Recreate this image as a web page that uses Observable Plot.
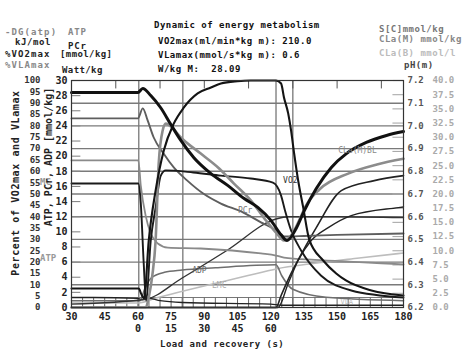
<!DOCTYPE html>
<html><head><meta charset="utf-8">
<script src="https://cdn.jsdelivr.net/npm/d3@7"></script>
<script src="https://cdn.jsdelivr.net/npm/@observablehq/plot@0.6"></script>
<style>
body{margin:0;background:#fff;}
#wrap{position:relative;width:474px;height:355px;overflow:hidden;}
</style></head><body><div id="wrap"></div>
<script>
// ---- tick labels ----
const timeTicks = [30,45,60,75,90,105,120,135,150,165,180];
const recoveryTicks = [0,15,30,45,60];          // recovery seconds, start at load end (t=60 label row)
const recoveryStart = 60;
const pctTicks = d3.range(0,101,5);
const mmolTicks = d3.range(0,31,2);
const pHTicks = d3.range(62,73,1).map(d=>d/10);
const rightTicks = d3.range(0,41,2.5);
const markerTimes = [60.4, 80.3, 122.4, 130];
const topTickTimes = [50,70,90,110,130,150,170];
const bottomTickTimes = d3.range(30,181,5);

// axis conversions into the common percent scale (0..100)
const mmolToPct = v => v/30*100;
const pHToPct = v => (v-6.2)*100;
const rightToPct = v => v/40*100;

// ---- series (values in % of axis height) ----
const pcrT = [30,60,62.2,65.8,70.3,74.9,79.4,85.3,93,100.7,108,114.3,120,124.7,127.4,131.5,135.2,140.6,147.4,154.2,163.2,172.3,180];
const pcrV = [94.7,94.7,96.5,93.4,88,80.6,73.6,66,59,53.7,48,44,38.5,32,29.5,34.8,42.7,52.4,61.7,67.8,72.7,75.8,77.5];

const vo2T = [30,60.4,61.5,62.8,64.9,68,71.7,76.2,80.7,87,93,97.5,105,111,122.4,124.7,126,127.9,129.2,130.6,132.4,134.7,137.4,143.7,149.6,154,165.5,180];
const vo2V = [8.4,8.4,6,4,29.5,51.5,69.2,81,88,94.3,96.9,98.7,99.7,100,100,98.7,92.5,85.5,78,67.8,56,44,30,20.7,15,11.9,7.5,5.3];

const powerT = [30,60.2,61.3,62.6,63.7,65.8,68,70.3,72.6,85,97.5,111,121,124.7,126.4,129.2,133.8,142.8,156.4,180];
const powerV = [54.6,54.6,46,20,3,29.5,44,58,60.4,59.5,58.1,56.8,55,49.3,43,34,25,14,7.5,4.4];

const vlaT = [30,63.5,65,66.5,68,69.4,71.2,72.6,74.9,79.4,88.4,96.2,103.4,111.1,117.9,122.4,126,129.2,132.4,136,142,155,168,180];
const vlaV = [0,0,5,14,29.5,63.4,78,81,79.7,74.9,67.8,61.7,54.6,47.1,38.3,33,29.5,31.7,37.4,45,52,59,63,65.5];

const dgT = [30,60,62.2,64.4,67.1,71.6,76.2,82.2,89.5,97.5,106.6,115.6,122.4,126,135,150,180];
const dgV = [83.3,83.3,87.7,82.4,75,67.8,61.7,56,50.2,45.8,42.3,37.5,34,31.3,31.5,32,32.6];

const scT = [30,60.2,61.3,63.5,65.8,69,73.5,88.4,115.6,122.4,126,140,160,180];
const scV = [64.8,64.8,53.7,40.5,32.6,28.2,26.4,26,23.8,22.9,22,21,20,19];

const claBT = [30,60,69,115.6,122.4,140,160,180];
const claBV = [2,2,4.4,15.4,17,19.5,21.8,24];

const claMT = [30,63,80,100,122.4,128,150,180];
const claMV = [1.5,3.5,13,25,39,40,40,39.6];

const adpT = [30,61,63,66,72,80,95,122.4,125,130,145,180];
const adpV = [3,3,8,13,15.5,16.5,17.5,18.8,14,8,4.5,3];

const phT = [30,122.4,124.7,128.3,134.7,140.6,151.9,166.8,180];
const phV = [0,0,5.3,13.2,25.1,35.2,51.5,55.9,58.1];

const r2T = [30,123.3,127.9,132.4,138.3,146,156.4,177.7,180];
const r2V = [0,0,10.6,20.7,29.5,35.2,40.5,44,44.3];

const atpT = [30,40,60,62,65,70,80,120,125,180];
const atpV = [4.4,4.4,4,3.5,4,3,2.2,1.5,1,1];

const series = [
  {t: claBT, v: claBV, stroke:"#bdbdbd", w:1.6},
  {t: atpT, v: atpV, stroke:"#222", w:1.3},
  {t: adpT, v: adpV, stroke:"#6e6e6e", w:1.6},
  {t: claMT, v: claMV, stroke:"#333", w:1.4},
  {t: scT, v: scV, stroke:"#8a8a8a", w:1.8},
  {t: r2T, v: r2V, stroke:"#222", w:1.4},
  {t: phT, v: phV, stroke:"#222", w:1.6},
  {t: dgT, v: dgV, stroke:"#5e5e5e", w:1.9},
  {t: powerT, v: powerV, stroke:"#1a1a1a", w:1.9},
  {t: vlaT, v: vlaV, stroke:"#8c8c8c", w:2.6},
  {t: vo2T, v: vo2V, stroke:"#141414", w:2.1},
  {t: pcrT, v: pcrV, stroke:"#111", w:3}
];

const FF = "DejaVu Sans Mono, monospace";

const marks = [
  Plot.ruleY([6.3,6.4,6.5,6.6,6.7,6.8,6.9,7.0,7.1].map(pHToPct), {stroke:"#7a7a7a", strokeWidth:1.4}),
  Plot.ruleY([4.4], {stroke:"#777", strokeWidth:1}),
  Plot.ruleX(markerTimes, {stroke:"#777", strokeWidth:1.3}),
  Plot.link(mmolTicks, {x1:30, x2:34, y1:d=>mmolToPct(d), y2:d=>mmolToPct(d), stroke:"#888", strokeWidth:1.1}),
  Plot.link(rightTicks, {x1:175, x2:180, y1:d=>rightToPct(d), y2:d=>rightToPct(d), stroke:"#aaa", strokeWidth:1.1}),
  Plot.link(topTickTimes, {x1:d=>d, x2:d=>d, y1:100, y2:96.5, stroke:"#555"}),
  Plot.link(bottomTickTimes, {x1:d=>d, x2:d=>d, y1:0, y2:4.4, stroke:"#666"}),
  ...series.map(s => Plot.line(s.t.map((t,i)=>({t, v:s.v[i]})), {x:"t", y:"v", stroke:s.stroke, strokeWidth:s.w, curve:"monotone-x"})),
  Plot.frame({stroke:"#333", strokeWidth:1.2}),
  Plot.axisY(pctTicks, {anchor:"left", label:null, tickSize:0, tickPadding:31, fontSize:9, fontWeight:"bold", color:"#333", fontFamily:FF}),
  Plot.axisY(mmolTicks.map(mmolToPct), {anchor:"left", label:null, tickSize:0, tickPadding:4, fontSize:10, fontWeight:"bold", color:"#222", fontFamily:FF, tickFormat:d=>String(Math.round(d*30/100))}),
  Plot.axisY(pHTicks.map(pHToPct), {anchor:"right", label:null, tickSize:0, tickPadding:4, fontSize:9, fontWeight:"bold", color:"#555", fontFamily:FF, tickFormat:d=>(6.2+d/100).toFixed(1)}),
  Plot.axisY(rightTicks.map(rightToPct), {anchor:"right", label:null, tickSize:0, tickPadding:29, fontSize:9, fontWeight:"bold", color:"#aaa", fontFamily:FF, tickFormat:d=>(d*40/100).toFixed(1)}),
  Plot.axisX(timeTicks, {anchor:"bottom", label:null, tickSize:0, tickPadding:5, fontSize:10, fontWeight:"bold", color:"#222", fontFamily:FF}),
  Plot.axisX(recoveryTicks.map(d=>d+recoveryStart), {anchor:"bottom", label:null, tickSize:0, tickPadding:17, fontSize:10, fontWeight:"bold", color:"#222", fontFamily:FF, tickFormat:d=>String(d-recoveryStart)}),
  Plot.text([{t:150.5, v:69.2, s:"CLa(M)BL"}], {x:"t", y:"v", text:"s", fill:"#888", fontSize:8, fontFamily:FF, textAnchor:"start"}),
  Plot.text([{t:125.6, v:55.9, s:"VO2"}], {x:"t", y:"v", text:"s", fill:"#333", fontSize:8, fontFamily:FF, textAnchor:"start"}),
  Plot.text([{t:105.2, v:42.7, s:"PCr"}], {x:"t", y:"v", text:"s", fill:"#777", fontSize:8, fontFamily:FF, textAnchor:"start"}),
  Plot.text([{t:84.5, v:16.3, s:"ADP"}], {x:"t", y:"v", text:"s", fill:"#666", fontSize:8, fontFamily:FF, textAnchor:"start"}),
  Plot.text([{t:93.5, v:9.7, s:"LMC"}], {x:"t", y:"v", text:"s", fill:"#aaa", fontSize:8, fontFamily:FF, textAnchor:"start"}),
  Plot.text([{t:151.5, v:2.5, s:"VLA"}], {x:"t", y:"v", text:"s", fill:"#bbb", fontSize:7, fontFamily:FF, textAnchor:"start"})
];

const chart = Plot.plot({
  width:474, height:355,
  marginLeft:71, marginRight:71, marginTop:80, marginBottom:48,
  x:{domain:[30,180], axis:null},
  y:{domain:[0,100], axis:null},
  style:{background:"#fff", fontFamily:FF},
  marks
});
document.getElementById("wrap").appendChild(chart);

// ---- header and axis titles ----
const svg = d3.select(chart);
const texts = [
  {x:5, y:35, s:"-DG(atp)", c:"#888", ls:1.1, fs:9},
  {x:68, y:35, s:"ATP", c:"#888", ls:0.8, fs:9},
  {x:15, y:44.5, s:"kJ/mol", c:"#222", ls:0.6, fs:9},
  {x:68, y:48.5, s:"PCr", c:"#222", ls:0.8, fs:9},
  {x:5, y:57, s:"%VO2max", c:"#222", ls:1.1, fs:9},
  {x:60, y:57, s:"[mmol/kg]", c:"#222", ls:0.4, fs:9},
  {x:5, y:68, s:"%VLAmax", c:"#888", ls:1.1, fs:9},
  {x:62, y:72.5, s:"Watt/kg", c:"#222", ls:0.4, fs:9},
  {x:154, y:28, s:"Dynamic of energy metabolism", c:"#111", ls:0.5, fs:9},
  {x:158, y:44, s:"VO2max(ml/min*kg m): 210.0", c:"#111", ls:0.5, fs:9},
  {x:158, y:58, s:"VLamax(mmol/s*kg m): 0.6", c:"#111", ls:0.5, fs:9},
  {x:158, y:72, s:"W/kg M:  28.09", c:"#111", ls:0.5, fs:9},
  {x:379, y:32, s:"S[C]mmol/kg", c:"#777", ls:0.5, fs:9},
  {x:379, y:41.5, s:"CLa(M) mmol/kg", c:"#888", ls:0.5, fs:9},
  {x:379, y:56, s:"CLa(B) mmol/l", c:"#bbb", ls:0.5, fs:9},
  {x:404, y:68, s:"pH(m)", c:"#444", ls:0.5, fs:9},
  {x:160, y:347, s:"Load and recovery (s)", c:"#222", ls:0.5, fs:9},
  {x:40, y:261, s:"ATP", c:"#999", ls:0, fs:9},
  {x:40, y:185, s:"MC", c:"#999", ls:0, fs:9}
];
const g = svg.append("g").attr("font-family", FF).attr("font-weight", "bold").attr("text-anchor","start");
texts.forEach(d => g.append("text").attr("x", d.x).attr("y", d.y).attr("fill", d.c).attr("text-anchor","start")
  .attr("font-size", d.fs).attr("letter-spacing", d.ls).attr("xml:space","preserve").style("white-space","pre").text(d.s));
g.append("text").attr("transform","translate(19,183) rotate(-90)").attr("text-anchor","middle").attr("font-size",10)
  .attr("fill","#222").attr("letter-spacing",0.6).text("Percent of VO2max and VLamax");
g.append("text").attr("transform","translate(52,157) rotate(-90)").attr("text-anchor","middle").attr("font-size",10)
  .attr("fill","#222").text("ATP, PCr, ADP [mmol/kg]");
</script></body></html>
